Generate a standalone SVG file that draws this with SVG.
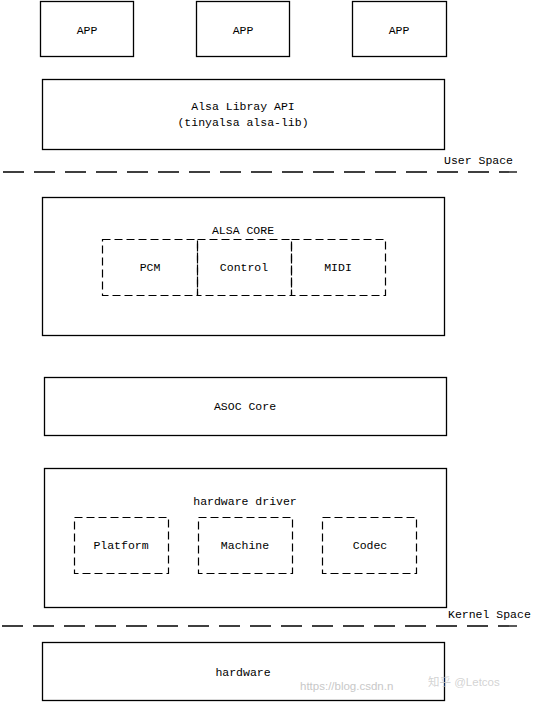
<svg xmlns="http://www.w3.org/2000/svg" width="543" height="702" viewBox="0 0 543 702">
<style>
.box{fill:#fff;stroke:#000;stroke-width:1.3}
.dbox{fill:none;stroke:#000;stroke-width:1.2;stroke-dasharray:8,4}
.sep{stroke:#000;stroke-width:1.3;stroke-dasharray:21,10;fill:none}
text{font-family:"Liberation Mono","DejaVu Sans Mono",monospace;font-size:11.5px;fill:#000}
.c{text-anchor:middle}
.wm{font-family:"Liberation Sans","Noto Sans CJK SC",sans-serif;fill:#c8c8c8}
</style>
<rect width="543" height="702" fill="#fff"/>
<g id="app1"><rect class="box" x="40.5" y="1.5" width="93" height="55"/><text class="c" x="87" y="34">APP</text></g>
<g id="app2"><rect class="box" x="196.5" y="1.5" width="93" height="55"/><text class="c" x="243" y="34">APP</text></g>
<g id="app3"><rect class="box" x="352.5" y="1.5" width="94" height="55"/><text class="c" x="399" y="34">APP</text></g>
<g id="alsa-lib"><rect class="box" x="42.5" y="79.5" width="402" height="70"/><text class="c" x="243" y="110">Alsa Libray API</text><text class="c" x="243" y="126">(tinyalsa alsa-lib)</text></g>
<g id="connectors">
<line class="sep" x1="3" y1="172" x2="517" y2="172"/>
<line class="sep" x1="2" y1="626" x2="517" y2="626"/>
</g>
<text x="444" y="164">User Space</text>
<g id="alsa-core"><rect class="box" x="42.5" y="197.5" width="402" height="138"/><text class="c" x="243" y="234">ALSA CORE</text>
<g id="pcm"><rect class="dbox" x="102.5" y="239.5" width="95" height="56"/><text class="c" x="150" y="271">PCM</text></g>
<g id="control"><rect class="dbox" x="197.5" y="239.5" width="94" height="56"/><text class="c" x="244" y="271">Control</text></g>
<g id="midi"><rect class="dbox" x="291.5" y="239.5" width="94" height="56"/><text class="c" x="338" y="271">MIDI</text></g>
</g>
<g id="asoc"><rect class="box" x="44.5" y="377.5" width="402" height="58"/><text class="c" x="245" y="410">ASOC Core</text></g>
<g id="hw-driver"><rect class="box" x="44.5" y="468.5" width="402" height="139"/><text class="c" x="245" y="505">hardware driver</text>
<g id="platform"><rect class="dbox" x="74.5" y="517.5" width="94" height="56"/><text class="c" x="121" y="549">Platform</text></g>
<g id="machine"><rect class="dbox" x="198.5" y="517.5" width="94" height="56"/><text class="c" x="245" y="549">Machine</text></g>
<g id="codec"><rect class="dbox" x="322.5" y="517.5" width="94" height="56"/><text class="c" x="370" y="549">Codec</text></g>
</g>
<text x="448" y="618">Kernel Space</text>
<g id="hardware"><rect class="box" x="42.5" y="642.5" width="402" height="58"/><text class="c" x="243" y="676">hardware</text></g>
<text class="wm" x="300" y="690" font-size="15">https://blog.csdn.n</text>
<text class="wm" x="428" y="686" font-size="17" fill-opacity="0.8">知乎 @Letcos</text>
</svg>
